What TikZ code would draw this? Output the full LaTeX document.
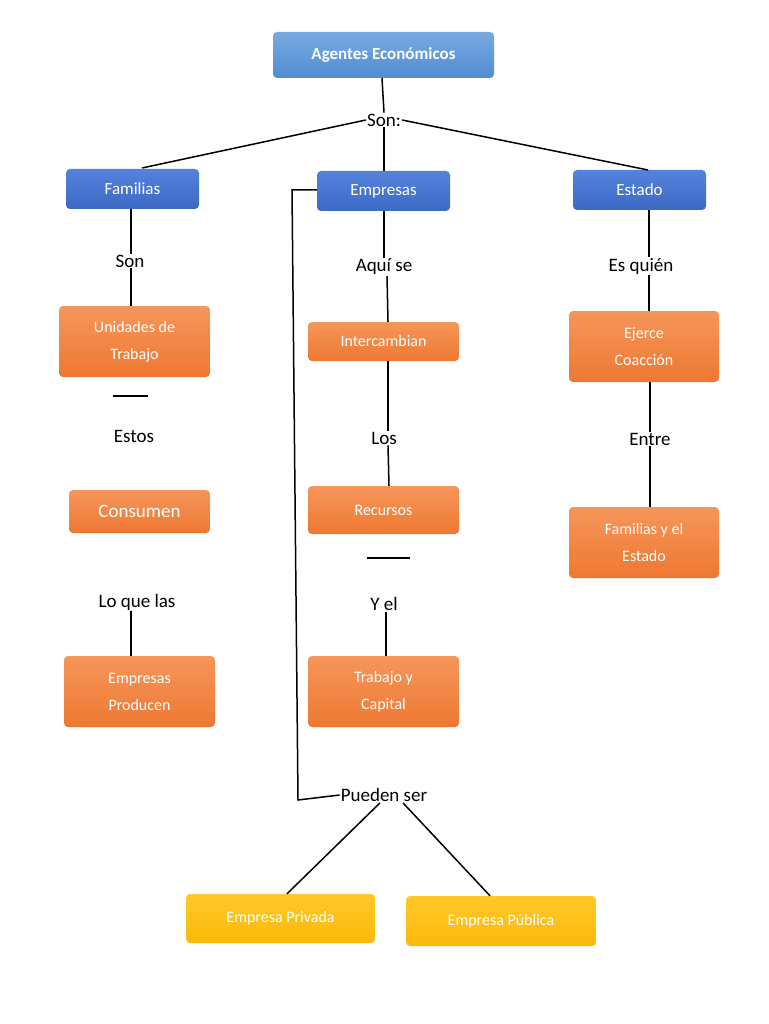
\documentclass[tikz,border=0pt]{standalone}
\usepackage{fontspec}
\setmainfont{Carlito}
\begin{document}
\begin{tikzpicture}[x=1pt,y=-1pt,
 bx/.style={rounded corners=4pt,text=white,align=center,inner sep=0pt,font=\fontsize{17}{21}\selectfont},
 blue/.style={bx,top color=blue!10!cyan!30!blue!50!white!0!blue!0!white!0!black!0!blue,top color={rgb,255:red,85;green,130;blue,220},bottom color={rgb,255:red,60;green,105;blue,195}},
 lblue/.style={bx,top color={rgb,255:red,120;green,170;blue,225},bottom color={rgb,255:red,80;green,140;blue,210}},
 org/.style={bx,top color={rgb,255:red,245;green,150;blue,90},bottom color={rgb,255:red,238;green,120;blue,50},font=\fontsize{16}{27}\selectfont},
 yel/.style={bx,top color={rgb,255:red,255;green,200;blue,40},bottom color={rgb,255:red,252;green,185;blue,10},font=\fontsize{16}{20}\selectfont},
 lb/.style={inner sep=1pt,font=\fontsize{19}{23}\selectfont},
 ln/.style={line width=1.5pt}]
\useasboundingbox (0,0) rectangle (768,1024);
\fill[white] (0,0) rectangle (768,1024);
\newcommand{\bxn}[6]{\node[#1,minimum width=#4-#3,minimum height=#6-#5] (#2) at ({(#3+#4)/2},{(#5+#6)/2})}
\bxn{lblue}{ag}{273}{494}{32}{78} {\textbf{Agentes Económicos}};
\bxn{blue}{fam}{66}{199}{169}{209} {Familias};
\bxn{blue}{emp}{317}{450}{171}{211} {Empresas};
\bxn{blue}{est}{573}{706}{170}{210} {Estado};
\bxn{org}{uni}{59}{210}{306}{377} {Unidades de\\Trabajo};
\bxn{org,font=\fontsize{19}{23}\selectfont}{con}{69}{210}{490}{533} {Consumen};
\bxn{org}{epr}{64}{215}{656}{727} {Empresas\\Producen};
\bxn{org}{int}{308}{459}{322}{361} {Intercambian};
\bxn{org}{rec}{308}{459}{486}{534} {Recursos};
\bxn{org}{tyc}{308}{459}{656}{727} {Trabajo y\\Capital};
\bxn{org}{eje}{569}{719}{311}{382} {Ejerce\\Coacción};
\bxn{org}{fye}{569}{719}{507}{578} {Familias y el\\Estado};
\bxn{yel}{epv}{186}{375}{894}{943} {Empresa Privada};
\bxn{yel}{epu}{406}{596}{896}{946} {Empresa Pública};
\node[lb] (son) at (384,120) {Son:};
\node[lb] (son2) at (130,261) {Son};
\node[lb] (aqui) at (384,267) {Aquí se};
\node[lb] (esq) at (641,266) {Es quién};
\node[lb] (estos) at (134,436) {Estos};
\node[lb] (los) at (384,438) {Los};
\node[lb] (entre) at (650,439) {Entre};
\node[lb] (lqe) at (137,602) {Lo que las};
\node[lb] (yel) at (384,604) {Y el};
\node[lb] (pue) at (384,795) {Pueden ser};
\coordinate (c1) at (292,190);
\coordinate (c2) at (298,800);
\draw[ln] (ag.south -| 382,0) -- (son.north);
\draw[ln] (son.west) -- (142,168);
\draw[ln] (son.east) -- (648,170);
\draw[ln] (son.south) -- (emp.north -| son);
\draw[ln] (fam.south -| 131,0) -- (son2.north -| 131,0);
\draw[ln] (son2.south -| 131,0) -- (uni.north -| 131,0);
\draw[ln] (113,396) -- (148,396);
\draw[ln] (lqe.south -| 131,0) -- (epr.north -| 131,0);
\draw[ln] (emp.south -| 384,0) -- (aqui.north -| 384,0);
\draw[ln] (aqui.south -| 387,0) -- (int.north -| 388,0);
\draw[ln] (int.south -| 388,0) -- (los.north -| 388,0);
\draw[ln] (los.south -| 388,0) -- (rec.north -| 389,0);
\draw[ln] (367,558) -- (410,558);
\draw[ln] (yel.south -| 386,0) -- (tyc.north -| 386,0);
\draw[ln] (est.south -| 649,0) -- (esq.north -| 649,0);
\draw[ln] (esq.south -| 649,0) -- (eje.north -| 649,0);
\draw[ln] (eje.south -| 650,0) -- (entre.north -| 650,0);
\draw[ln] (entre.south -| 650,0) -- (fye.north -| 650,0);
\draw[ln] (emp.west |- c1) -- (c1) -- (c2) -- (pue.west);
\draw[ln] (pue.south -| 380,0) -- (epv.north -| 287,0);
\draw[ln] (pue.south -| 403,0) -- (epu.north -| 490,0);
\end{tikzpicture}
\end{document}
